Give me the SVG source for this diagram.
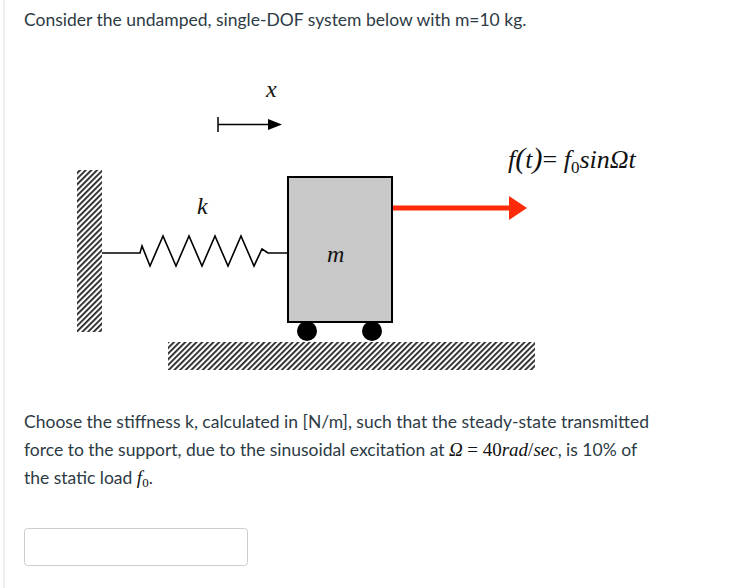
<svg xmlns="http://www.w3.org/2000/svg" width="738" height="588" viewBox="0 0 738 588">
<defs>
<pattern id="h" width="4" height="4" patternUnits="userSpaceOnUse" patternTransform="rotate(45)"><rect width="4" height="4" fill="#fff"/><rect width="1.8" height="4" fill="#222"/></pattern>
<style>
.t{font-family:Lato,"Open Sans",sans-serif;font-size:17.5px;fill:#2d3b45}
.m{font-family:"Liberation Serif",serif;font-style:italic;fill:#111}
</style>
</defs>
<rect width="738" height="588" fill="#fff"/>
<line x1="4" y1="0" x2="4" y2="588" stroke="#ddd"/>
<text class="t" x="24" y="26">Consider the undamped, single-DOF system below with m=10 kg.</text>
<g id="x-label"><text class="m" x="266" y="97" font-size="24">x</text>
<line x1="218" y1="117" x2="218" y2="132" stroke="#000" stroke-width="1.5"/>
<line x1="218" y1="124.5" x2="270" y2="124.5" stroke="#000" stroke-width="1.5"/>
<polygon points="282,124.5 268,119 268,130" fill="#000"/></g>
<g id="wall"><rect x="77" y="170" width="25" height="162" fill="url(#h)"/></g>
<g id="ground"><rect x="168" y="342" width="367" height="28" fill="url(#h)"/></g>
<g id="connectors">
<polyline points="102,253 140,253 142,246 150,266 163,236 176,266 189,236 202,266 215,236 228,266 241,236 254,266 262,249 268,253 288,253" fill="none" stroke="#000" stroke-width="1.6"/>
<line x1="393" y1="208" x2="512" y2="208" stroke="#fe2a0a" stroke-width="5"/>
<polygon points="527,208 509,196 509,220" fill="#fe2a0a"/>
</g>
<g id="spring-label"><text class="m" x="197" y="214" font-size="24">k</text></g>
<g id="mass"><rect x="288" y="177" width="104" height="145" fill="#c8c8c8" stroke="#000" stroke-width="2"/>
<text class="m" x="327" y="262" font-size="24">m</text>
<circle cx="307" cy="331" r="10" fill="#000"/><circle cx="372" cy="331" r="10" fill="#000"/></g>
<g id="force-label"><text class="m" x="508" y="168" font-size="26">f<tspan font-size="30">(</tspan>t<tspan font-size="30">)</tspan><tspan font-style="normal">=</tspan> f<tspan font-size="17" dy="5" font-style="normal">0</tspan><tspan dy="-5">sinΩt</tspan></text></g>
<text class="t" x="24" y="428">Choose the stiffness  k, calculated in [N/m], such that the steady-state transmitted</text>
<text class="t" x="24" y="456">force to the support, due to the sinusoidal excitation at <tspan class="m" font-size="19">Ω</tspan> <tspan font-family="Liberation Serif" font-size="19" fill="#111">= 40</tspan><tspan class="m" font-size="19">rad</tspan><tspan font-family="Liberation Serif" font-size="19" fill="#111">/</tspan><tspan class="m" font-size="19">sec</tspan>, is 10% of</text>
<text class="t" x="24" y="484">the static load <tspan class="m" font-size="19">f</tspan><tspan font-family="Liberation Serif" font-size="13" fill="#111" dy="3">0</tspan><tspan dy="-3">.</tspan></text>
<rect x="24.5" y="528.5" width="223" height="37" rx="3" fill="#fff" stroke="#c7cdd1"/>
</svg>
